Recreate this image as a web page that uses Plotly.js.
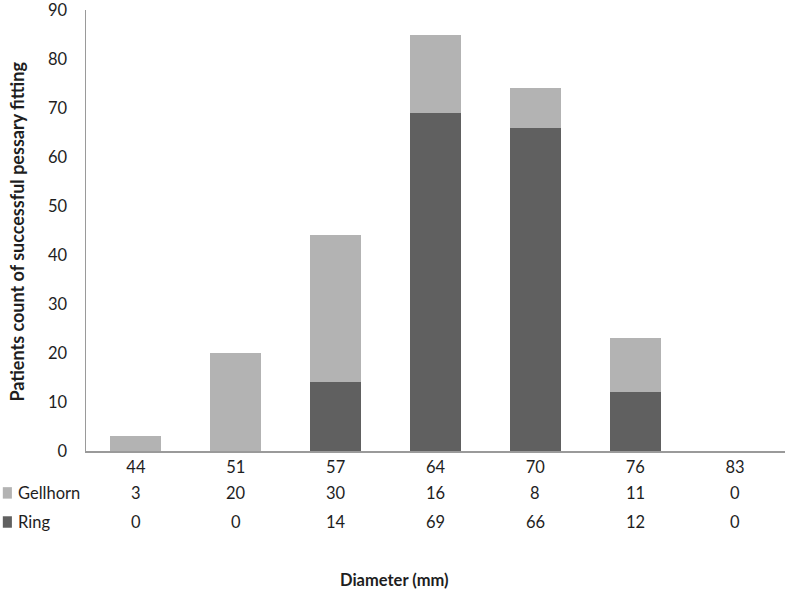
<!DOCTYPE html>
<html>
<head>
<meta charset="utf-8">
<script src="https://cdn.plot.ly/plotly-3.0.1.min.js"></script>
<style>html,body{margin:0;padding:0;background:#fff;}#chart{width:785px;height:591px;}</style>
</head>
<body>
<div id="chart"></div>
<script>
const categories = ["44", "51", "57", "64", "70", "76", "83"];
const gellhorn = [3, 20, 30, 16, 8, 11, 0];
const ring = [0, 0, 14, 69, 66, 12, 0];
const seriesNames = ["Gellhorn", "Ring"];
const yTicks = [0, 10, 20, 30, 40, 50, 60, 70, 80, 90];

const FONT = "Lato, 'Open Sans', sans-serif";
const TXT = "#1e1e1e";
const LIGHT = "#b3b3b3";
const DARK = "#606060";
const TS = 16.5;

const traces = [
  {type: "bar", name: seriesNames[1], x: categories, y: ring,
   marker: {color: DARK}, width: 0.51, hoverinfo: "skip"},
  {type: "bar", name: seriesNames[0], x: categories, y: gellhorn,
   marker: {color: LIGHT}, width: 0.51, hoverinfo: "skip"}
];

const rowY = {Gellhorn: -0.095, Ring: -0.161};
const annotations = [];
categories.forEach((c, i) => {
  annotations.push({x: i, xref: "x", y: rowY.Gellhorn, yref: "paper", text: String(gellhorn[i]),
    showarrow: false, font: {family: FONT, size: TS, color: TXT}, xanchor: "center", yanchor: "middle"});
  annotations.push({x: i, xref: "x", y: rowY.Ring, yref: "paper", text: String(ring[i]),
    showarrow: false, font: {family: FONT, size: TS, color: TXT}, xanchor: "center", yanchor: "middle"});
});
annotations.push({x: -0.1, xref: "paper", y: rowY.Gellhorn, yref: "paper", text: seriesNames[0],
  showarrow: false, font: {family: FONT, size: TS, color: TXT}, xanchor: "left", yanchor: "middle"});
annotations.push({x: -0.1, xref: "paper", y: rowY.Ring, yref: "paper", text: seriesNames[1],
  showarrow: false, font: {family: FONT, size: TS, color: TXT}, xanchor: "left", yanchor: "middle"});
annotations.push({x: 0.441, xref: "paper", y: -0.293, yref: "paper", text: "<b>Diameter (mm)</b>",
  showarrow: false, font: {family: FONT, size: 16.5, color: TXT}, xanchor: "center", yanchor: "middle"});
annotations.push({x: -0.099, xref: "paper", y: 0.497, yref: "paper", text: "<b>Patients count of successful pessary fitting</b>",
  textangle: -90, showarrow: false, font: {family: FONT, size: 18, color: TXT}, xanchor: "center", yanchor: "middle"});

const shapes = [
  {type: "rect", xref: "paper", yref: "paper", x0: -0.119, x1: -0.106, y0: rowY.Gellhorn - 0.013, y1: rowY.Gellhorn + 0.013,
   fillcolor: LIGHT, line: {width: 0}},
  {type: "rect", xref: "paper", yref: "paper", x0: -0.119, x1: -0.106, y0: rowY.Ring - 0.013, y1: rowY.Ring + 0.013,
   fillcolor: DARK, line: {width: 0}}
];

const layout = {
  width: 785, height: 591,
  margin: {l: 86, r: 0, t: 10, b: 140},
  paper_bgcolor: "#fff", plot_bgcolor: "#fff",
  barmode: "stack",
  showlegend: false,
  font: {family: FONT, color: TXT},
  xaxis: {type: "category", range: [-0.5, 6.5], showgrid: false, zeroline: false, showline: true, linecolor: "#9a9a9a", linewidth: 1.5,
    ticks: "", tickfont: {family: FONT, size: TS, color: TXT}, ticklabelstandoff: 1, fixedrange: true},
  yaxis: {range: [0, 90.0001], tickvals: yTicks, showgrid: false, zeroline: false, showline: true, linecolor: "#9a9a9a", linewidth: 1.5,
    ticks: "", tickfont: {family: FONT, size: TS, color: TXT}, ticklabelstandoff: 14, ticklabeloverflow: "allow",
    fixedrange: true},
  annotations: annotations,
  shapes: shapes
};

Plotly.newPlot("chart", traces, layout, {displayModeBar: false, staticPlot: true});
</script>
</body>
</html>
